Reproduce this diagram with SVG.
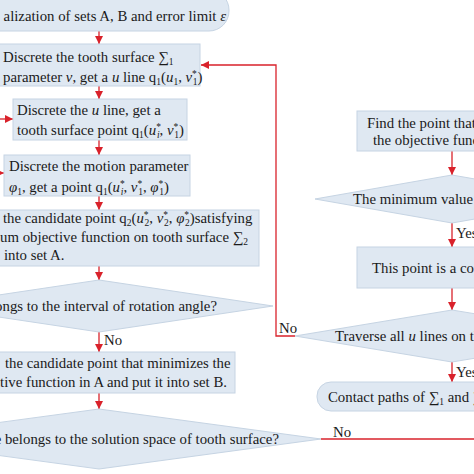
<svg xmlns="http://www.w3.org/2000/svg" width="474" height="474" viewBox="0 0 474 474">
<style>
.box{fill:#dfe8f2;stroke:#c6d4e3;stroke-width:1}
.t{font-family:"Liberation Serif","Times New Roman",serif;font-size:14.8px;fill:#1a1a1a}
.it{font-style:italic}
.sub{font-size:9.5px;baseline-shift:-3px}
.sup{font-size:9.5px;baseline-shift:5px}
.c{fill:none;stroke:#d9222b;stroke-width:1.3}
</style>
<defs>
<marker id="ah" markerUnits="userSpaceOnUse" markerWidth="9" markerHeight="9" refX="8" refY="4" orient="auto">
<path d="M0,0 L8,4 L0,8 z" fill="#d9222b"/>
</marker>
</defs>
<rect width="474" height="474" fill="#ffffff"/>

<g id="connectors">
<line class="c" x1="99" y1="31" x2="99" y2="44" marker-end="url(#ah)"/>
<line class="c" x1="99" y1="86" x2="99" y2="99" marker-end="url(#ah)"/>
<line class="c" x1="99" y1="140" x2="99" y2="155" marker-end="url(#ah)"/>
<line class="c" x1="99" y1="196" x2="99" y2="210" marker-end="url(#ah)"/>
<line class="c" x1="99" y1="266" x2="99" y2="280" marker-end="url(#ah)"/>
<line class="c" x1="99" y1="332" x2="99" y2="352" marker-end="url(#ah)"/>
<line class="c" x1="99" y1="393" x2="99" y2="409" marker-end="url(#ah)"/>
<line class="c" x1="-2" y1="119" x2="13" y2="119" marker-end="url(#ah)"/>
<line class="c" x1="-8" y1="173" x2="4" y2="173" marker-end="url(#ah)"/>
<polyline class="c" points="295,336 276,336 276,65 201,65" marker-end="url(#ah)"/>
<line class="c" x1="452" y1="151" x2="452" y2="175" marker-end="url(#ah)"/>
<line class="c" x1="452" y1="223" x2="452" y2="247" marker-end="url(#ah)"/>
<line class="c" x1="452" y1="288" x2="452" y2="310" marker-end="url(#ah)"/>
<line class="c" x1="452" y1="362" x2="452" y2="382" marker-end="url(#ah)"/>
<line class="c" x1="321" y1="439" x2="476" y2="439"/>
<text class="t" x="104" y="345">No</text>
<text class="t" x="279" y="333">No</text>
<text class="t" x="333" y="437">No</text>
<text class="t" x="456" y="238">Yes</text>
<text class="t" x="456" y="377">Yes</text>
</g>

<g id="start">
<rect class="box" x="-40" y="-10" width="269" height="41" rx="20"/>
<text class="t" x="226" y="21" text-anchor="end">alization of sets A, B and error limit <tspan class="it">ε</tspan></text>
</g>

<g id="box1">
<rect class="box" x="-1" y="44" width="201" height="42"/>
<text class="t" x="3" y="62">Discrete the tooth surface ∑<tspan class="sub">1</tspan></text>
<text class="t" x="3" y="82">parameter <tspan class="it">v</tspan>, get a <tspan class="it">u</tspan> line q<tspan class="sub">1</tspan>(<tspan class="it">u</tspan><tspan class="sub">1</tspan>, <tspan class="it">v</tspan><tspan class="sup">*</tspan><tspan class="sub" dx="-4">1</tspan>)</text>
</g>

<g id="box2">
<rect class="box" x="13" y="99" width="174" height="41"/>
<text class="t" x="17" y="115">Discrete the <tspan class="it">u</tspan> line, get a</text>
<text class="t" x="17" y="135">tooth surface point q<tspan class="sub">1</tspan>(<tspan class="it">u</tspan><tspan class="sup">*</tspan><tspan class="sub it" dx="-4">i</tspan>, <tspan class="it">v</tspan><tspan class="sup">*</tspan><tspan class="sub" dx="-4">1</tspan>)</text>
</g>

<g id="box3">
<rect class="box" x="4" y="155" width="186" height="41"/>
<text class="t" x="9" y="171">Discrete the motion parameter</text>
<text class="t" x="9" y="192"><tspan class="it">φ</tspan><tspan class="sub">1</tspan>, get a point q<tspan class="sub">1</tspan>(<tspan class="it">u</tspan><tspan class="sup">*</tspan><tspan class="sub it" dx="-4">i</tspan>, <tspan class="it">v</tspan><tspan class="sup">*</tspan><tspan class="sub" dx="-4">1</tspan>, <tspan class="it">φ</tspan><tspan class="sup">*</tspan><tspan class="sub" dx="-4">1</tspan>)</text>
</g>

<g id="box4">
<rect class="box" x="-5" y="210" width="264" height="56"/>
<text class="t" x="3" y="223">the candidate point q<tspan class="sub">2</tspan>(<tspan class="it">u</tspan><tspan class="sup">*</tspan><tspan class="sub" dx="-4">2</tspan>, <tspan class="it">v</tspan><tspan class="sup">*</tspan><tspan class="sub" dx="-4">2</tspan>, <tspan class="it">φ</tspan><tspan class="sup">*</tspan><tspan class="sub" dx="-4">2</tspan>)satisfying</text>
<text class="t" x="248" y="242" text-anchor="end">mum objective function on tooth surface ∑<tspan class="sub">2</tspan></text>
<text class="t" x="4" y="260">into set A.</text>
</g>

<g id="decision1">
<polygon class="box" points="99,280 273,306 99,332 -75,306"/>
<text class="t" x="217" y="311" text-anchor="end">belongs to the interval of rotation angle?</text>
</g>

<g id="box5">
<rect class="box" x="-5" y="352" width="240" height="41"/>
<text class="t" x="5" y="368">the candidate point that minimizes the</text>
<text class="t" x="227" y="387" text-anchor="end">ctive function in A and put it into set B.</text>
</g>

<g id="decision2">
<polygon class="box" points="99,409 321,439 99,469 -123,439"/>
<text class="t" x="279" y="444" text-anchor="end">e belongs to the solution space of tooth surface?</text>
</g>

<g id="boxR1">
<rect class="box" x="357" y="111" width="130" height="40"/>
<text class="t" x="367" y="128">Find the point that</text>
<text class="t" x="373" y="145">the objective func</text>
</g>

<g id="decisionR1">
<polygon class="box" points="452,175 589,199 452,223 315,199"/>
<text class="t" x="353" y="204">The minimum value</text>
</g>

<g id="boxR2">
<rect class="box" x="357" y="247" width="130" height="41"/>
<text class="t" x="372" y="273">This point is a con</text>
</g>

<g id="decisionR2">
<polygon class="box" points="452,310 609,336 452,362 295,336"/>
<text class="t" x="335" y="341">Traverse all <tspan class="it">u</tspan> lines on th</text>
</g>

<g id="end">
<rect class="box" x="317" y="382" width="190" height="29" rx="14"/>
<text class="t" x="328" y="402">Contact paths of ∑<tspan class="sub">1</tspan> and ∑</text>
</g>
</svg>
